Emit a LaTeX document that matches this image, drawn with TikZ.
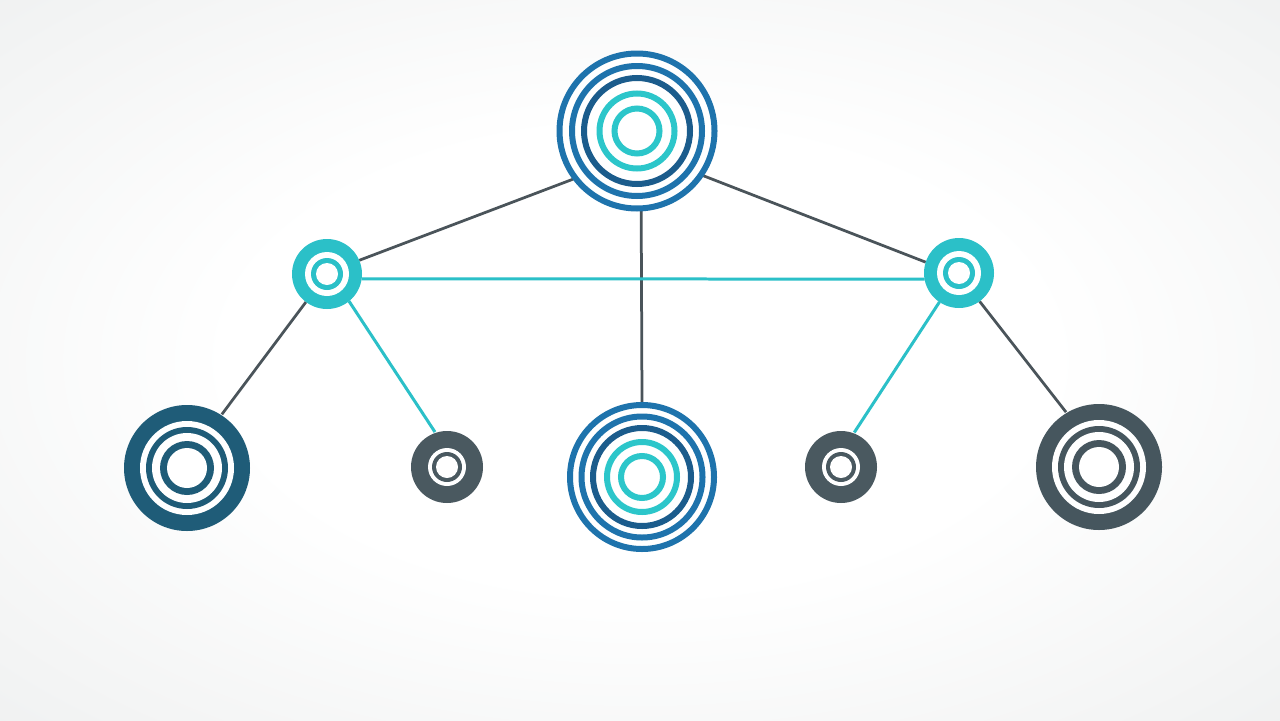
\documentclass[tikz,border=0pt]{standalone}
\usetikzlibrary{calc}
\definecolor{bgmid}{RGB}{243,244,244}
\definecolor{bgout}{RGB}{229,231,232}
\definecolor{bgfar}{RGB}{220,223,224}
\definecolor{ringblue}{RGB}{30,115,172}
\definecolor{ringnavy}{RGB}{27,92,140}
\definecolor{ringteal}{RGB}{44,198,202}
\definecolor{hubteal}{RGB}{43,192,200}
\definecolor{leafblue}{RGB}{31,92,120}
\definecolor{leafslate}{RGB}{70,86,94}
\definecolor{smallslate}{RGB}{74,89,96}
\definecolor{linkgray}{RGB}{74,84,90}
\pgfdeclareradialshading{bgshade}{\pgfpoint{0bp}{0bp}}{%
  color(0bp)=(white); color(16bp)=(white); color(32bp)=(bgmid);
  color(50bp)=(bgout); color(71bp)=(bgfar)}
\tikzset{
  spot/.style={circle, inner sep=0pt, outer sep=0pt, minimum size=#1*0.04cm},
  darklink/.style={draw=linkgray, line width=0.055cm},
  teallink/.style={draw=hubteal, line width=0.06cm},
  ring/.style={line width=0.12cm}
}
\begin{document}
\begin{tikzpicture}[x=0.02cm, y=-0.02cm]
  % background
  \useasboundingbox (0,0) rectangle (1280,720);
  \shade[shading=bgshade] (0,0) rectangle (1280,720);

  % node placeholders
  \node[spot=80] (top) at (637,131) {};
  \node[spot=75] (bc) at (642,477) {};
  \node[spot=35] (lh) at (327,274) {};
  \node[spot=35] (rh) at (959,273) {};
  \node[spot=64] (bl) at (187,468) {};
  \node[spot=64] (br) at (1099,467) {};
  \node[spot=37] (sl) at (447,467) {};
  \node[spot=37] (sr) at (841,467) {};

  % connectors
  \draw[darklink] (top.217) -- (lh.23);
  \draw[darklink] (top.326) -- (rh.162);
  \draw[darklink] (top.273) -- (bc.north);
  \draw[teallink] (lh.-8) -- (rh.190);
  \draw[darklink] (lh.233) -- (bl.57);
  \draw[teallink] (lh.309) -- (sl.109);
  \draw[teallink] (rh.236) -- (sr.69);
  \draw[darklink] (rh.306) -- (br.121);

  % top big node
  \fill[white] (top) circle (80);
  \draw[ringblue, ring] (top) circle (77.5);
  \draw[ringblue, ring] (top) circle (65);
  \draw[ringnavy, ring] (top) circle (53);
  \draw[ringteal, ring] (top) circle (37.5);
  \draw[ringteal, ring] (top) circle (22.5);

  % bottom center big node
  \fill[white] (bc) circle (75);
  \draw[ringblue, ring] (bc) circle (72);
  \draw[ringblue, ring] (bc) circle (60.5);
  \draw[ringnavy, ring] (bc) circle (49);
  \draw[ringteal, ring] (bc) circle (35);
  \draw[ringteal, ring] (bc) circle (21);

  % hub nodes
  \foreach \n in {lh,rh}{
    \fill[hubteal] (\n) circle (35);
    \fill[white] (\n) circle (22);
    \fill[hubteal] (\n) circle (16);
    \fill[white] (\n) circle (11);
  }

  % big leaf nodes
  \fill[leafblue] (bl) circle (63);
  \fill[white] (bl) circle (47);
  \fill[leafblue] (bl) circle (41);
  \fill[white] (bl) circle (35);
  \fill[leafblue] (bl) circle (27);
  \fill[white] (bl) circle (20);

  \fill[leafslate] (br) circle (63);
  \fill[white] (br) circle (47);
  \fill[leafslate] (br) circle (41);
  \fill[white] (br) circle (35);
  \fill[leafslate] (br) circle (27);
  \fill[white] (br) circle (20);

  % small leaf nodes
  \foreach \n in {sl,sr}{
    \fill[smallslate] (\n) circle (36);
    \fill[white] (\n) circle (19);
    \fill[smallslate] (\n) circle (15);
    \fill[white] (\n) circle (11);
  }
\end{tikzpicture}
\end{document}
